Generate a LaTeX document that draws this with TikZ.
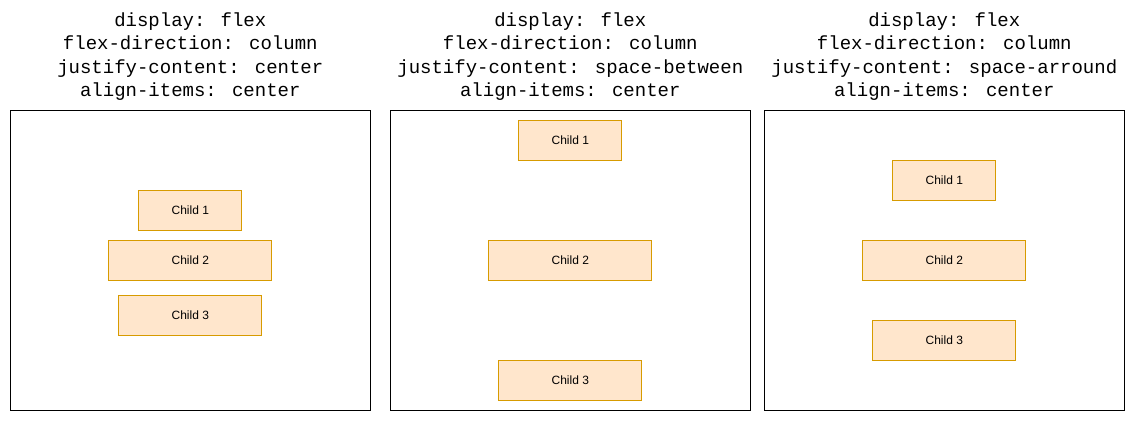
\documentclass[tikz,border=0pt]{standalone}
\usepackage{fontspec}
\setmainfont{Liberation Sans}
\newfontfamily\codefont{Liberation Mono}
\usetikzlibrary{positioning}

\definecolor{childfill}{HTML}{FFE6CC}
\definecolor{childdraw}{HTML}{D79B00}

\tikzset{
  panel/.style={draw=black, line width=1pt, minimum width=360pt, minimum height=300pt, inner sep=0pt},
  child/.style={draw=childdraw, fill=childfill, line width=1pt, minimum height=40pt, inner sep=0pt,
                font=\fontsize{12}{14}\selectfont},
  heading/.style={align=center, font=\codefont\fontsize{19}{23.3}\selectfont, inner sep=0pt}
}

\begin{document}
\begin{tikzpicture}[x=1pt, y=-1pt]
  \useasboundingbox (0,0) rectangle (1140,421);

  % Panels: name/x/child1 y/child3 y/justify-content
  \foreach \n/\x/\ya/\yc/\jc in {a/190.3/210.3/315.3/center,
                                 b/570.3/140.3/380.3/space-between,
                                 c/944.3/180.3/340.3/space-arround} {
    \node[panel] (panel\n) at (\x,260) {};
    \node[heading, anchor=base] (head\n) at (\x,96.5)
      {display: flex\\flex-direction: column\\justify-content: \jc\\align-items: center};

    % Children
    \node[child, minimum width=103.3pt] (child\n1) at (\x,\ya) {Child 1};
    \node[child, minimum width=163.3pt] (child\n2) at (\x,260) {Child 2};
    \node[child, minimum width=143.3pt] (child\n3) at (\x,\yc) {Child 3};
  }
\end{tikzpicture}
\end{document}
